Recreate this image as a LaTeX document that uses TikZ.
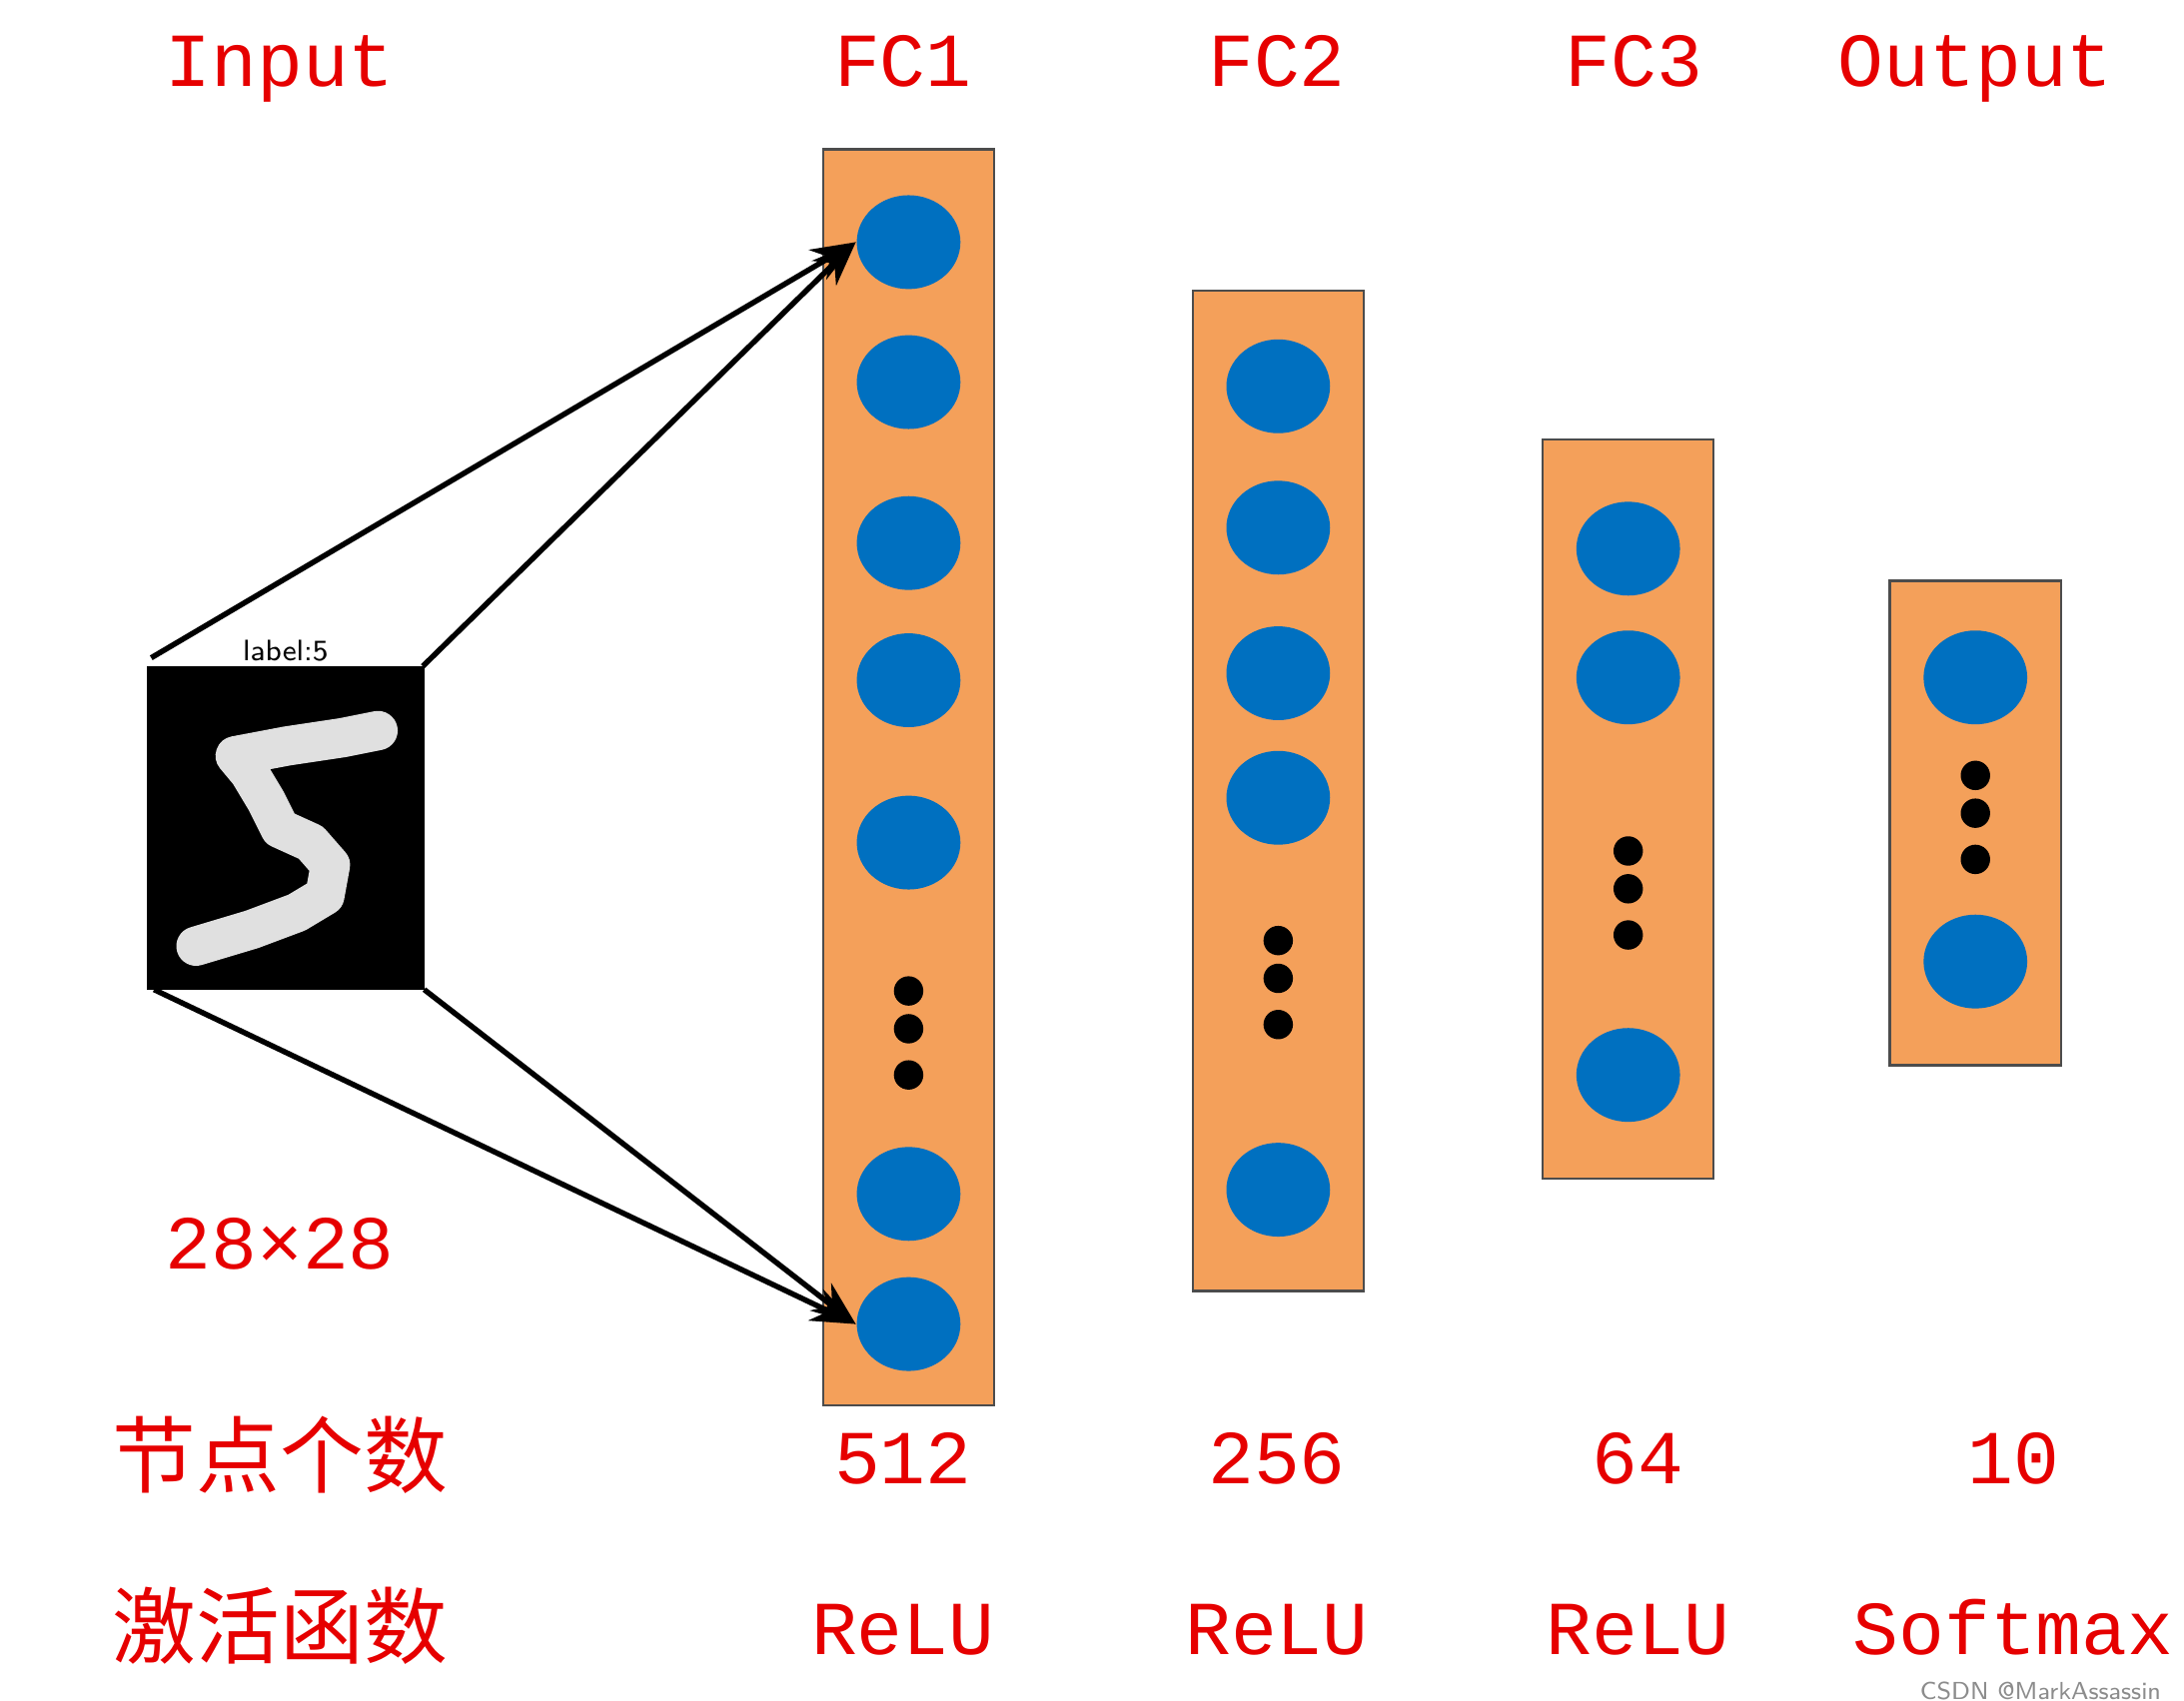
\documentclass[tikz,border=0pt]{standalone}
\usepackage{fontspec}
\setmainfont{Liberation Mono}
\newfontfamily\cjk{Noto Sans CJK SC}
\usetikzlibrary{arrows.meta,shapes.geometric}
\definecolor{lay}{RGB}{244,160,90}
\definecolor{neu}{RGB}{0,112,192}
\definecolor{txt}{RGB}{230,0,0}
\begin{document}
\begin{tikzpicture}[x=0.01cm,y=-0.01cm,
  layer/.style={draw=black!70,fill=lay,line width=0.5pt},
  neuron/.style={ellipse,fill=neu,minimum width=0.74cm,minimum height=0.67cm,inner sep=0},
  dot/.style={circle,fill=black,minimum size=0.21cm,inner sep=0},
  t/.style={text=txt,anchor=base,font=\fontsize{15.5}{15.5}\selectfont},
  c/.style={text=txt,anchor=base,font=\cjk\fontsize{17}{17}\selectfont},
  arr/.style={line width=1.1pt,-{Stealth[length=9pt,width=7pt]}}]
\useasboundingbox (0,0) rectangle (1560,1215);
% layers
\node[layer,minimum width=1.22cm,minimum height=8.97cm,inner sep=0] (L1) at (649,555.5) {};
\node[layer,minimum width=1.22cm,minimum height=7.14cm,inner sep=0] (L2) at (913,565) {};
\node[layer,minimum width=1.22cm,minimum height=5.28cm,inner sep=0] (L3) at (1163,578) {};
\node[layer,minimum width=1.22cm,minimum height=3.46cm,inner sep=0] (L4) at (1411,588) {};
% neurons
\foreach \y [count=\i] in {173,273,388,486,602,853,946} \node[neuron] (a\i) at (649,\y) {};
\foreach \y [count=\i] in {708,735,768} \node[dot] (ad\i) at (649,\y) {};
\foreach \y [count=\i] in {276,377,481,570,850} \node[neuron] (b\i) at (913,\y) {};
\foreach \y [count=\i] in {672,699,732} \node[dot] (bd\i) at (913,\y) {};
\foreach \y [count=\i] in {392,484,768} \node[neuron] (c\i) at (1163,\y) {};
\foreach \y [count=\i] in {608,635,668} \node[dot] (cd\i) at (1163,\y) {};
\foreach \y [count=\i] in {484,687} \node[neuron] (d\i) at (1411,\y) {};
\foreach \y [count=\i] in {554,581,614} \node[dot] (dd\i) at (1411,\y) {};
% image
\node[fill=black,minimum width=1.98cm,minimum height=2.31cm,inner sep=0] (img) at (204,591.5) {};
\draw[white!88!black,line width=8pt,line join=round,line cap=round]
  (270,522) -- (245,527) -- (205,533) -- (168,540) -- (178,552) -- (190,572) -- (200,592) -- (222,602) -- (236,618) -- (232,640) -- (212,652) -- (180,664) -- (140,676);
\node[font=\sffamily\fontsize{6}{6}\selectfont] (lab) at (204,465) {label:5};
\coordinate (tl) at (108,470);
\coordinate (tr) at (302,476);
\coordinate (bl) at (110,707);
\coordinate (br) at (303,707);
\draw[arr] (tl) -- (a1.west);
\draw[arr] (tr) -- (a1.west);
\draw[arr] (bl) -- (a7.west);
\draw[arr] (br) -- (a7.west);
% titles
\node[t] (ti) at (200,62) {Input};
\node[t] (t1) at (645,62) {FC1};
\node[t] (t2) at (912,62) {FC2};
\node[t] (t3) at (1167,62) {FC3};
\node[t] (t4) at (1411,62) {Output};
\node[t] (sz) at (200,907) {28×28};
\node[c] (n0) at (200,1062) {节点个数};
\node[t] (n1) at (645,1060) {512};
\node[t] (n2) at (912,1060) {256};
\node[t] (n3) at (1170,1060) {64};
\node[t] (n4) at (1438,1060) {10};
\node[c] (f0) at (200,1184) {激活函数};
\node[t] (f1) at (645,1182) {ReLU};
\node[t] (f2) at (912,1182) {ReLU};
\node[t] (f3) at (1170,1182) {ReLU};
\node[t] (f4) at (1438,1182) {Softmax};
\node[font=\sffamily\fontsize{5}{5}\selectfont,text=black!45,anchor=east] (wm) at (1556,1208) {CSDN @MarkAssassin};
\end{tikzpicture}
\end{document}
